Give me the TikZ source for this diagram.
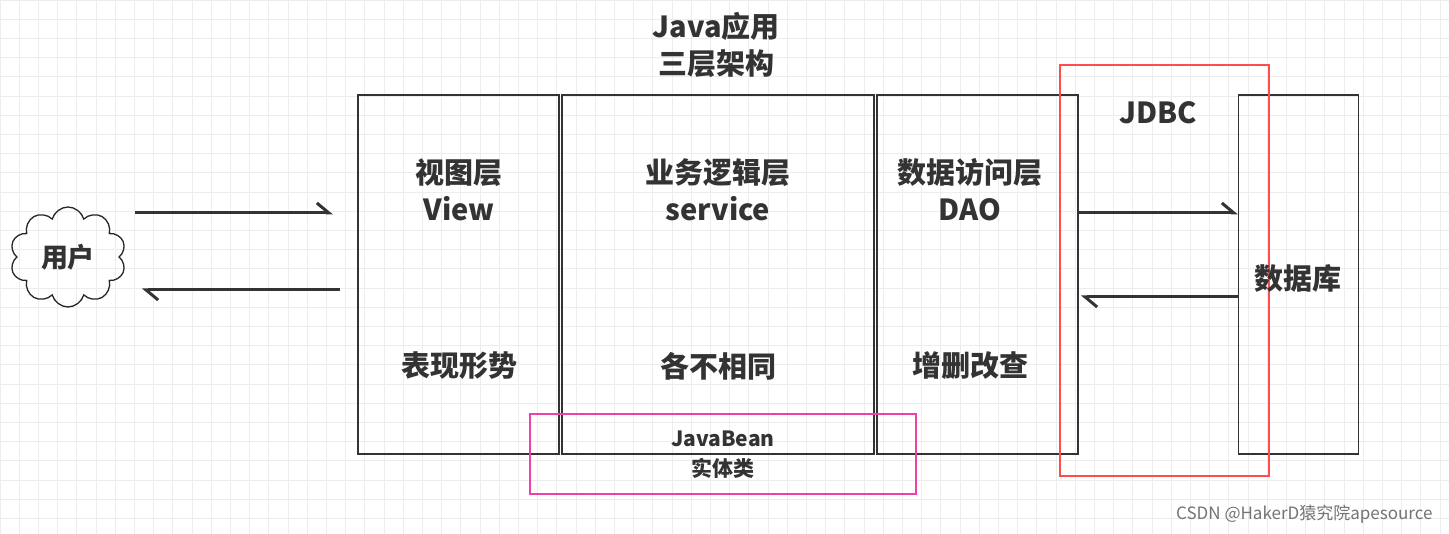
\documentclass[tikz,border=0pt]{standalone}
\usepackage{fontspec}
\setmainfont{Noto Sans CJK SC}
\usetikzlibrary{shapes.symbols,arrows.meta}
\begin{document}
\begin{tikzpicture}[x=1pt,y=-1pt,
  box/.style={draw=black!80,line width=1.3pt},
  lbl/.style={font=\fontsize{29}{37}\selectfont\bfseries,text=black!80,align=center},
  arr/.style={line width=3pt,draw=black!80,-{Straight Barb[left,length=12pt,width=20pt]}}]
\fill[white] (0,0) rectangle (1449,534);
\useasboundingbox (0,0) rectangle (1449,534);
\foreach \i in {0,...,76} {\draw[black!7,line width=0.8pt] (\i*19.2,0) -- (\i*19.2,534);}
\foreach \i in {0,...,28} {\draw[black!7,line width=0.8pt] (0,\i*19.2) -- (1449,\i*19.2);}
\draw[box] (358,95) rectangle (559,454);
\draw[box] (562,95) rectangle (874,454);
\draw[box] (877,95) rectangle (1078,454);
\node[box,minimum width=120,minimum height=359,inner sep=0] (db) at (1298.5,274.5) {};
\draw[red!70,line width=1.6pt] (1060,65) rectangle (1269,476);
\draw[magenta!75,line width=2pt] (530,414) rectangle (916,494);
\node[lbl] at (716,45) {Java应用\\三层架构};
\node[lbl] at (459,190) {视图层\\View};
\node[lbl] at (718,190) {业务逻辑层\\service};
\node[lbl] at (970,190) {数据访问层\\DAO};
\node[lbl] at (459,366) {表现形势};
\node[lbl] at (718,366) {各不相同};
\node[lbl] at (970,366) {增删改查};
\node[lbl] at (1158,113) {JDBC};
\node[lbl] at (1298,278) {数据库};
\node[font=\fontsize{21}{30}\selectfont\bfseries,text=black!80,align=center] at (723,455) {JavaBean\\实体类};
\node[cloud,draw=black!85,line width=1.3pt,cloud puffs=10,aspect=1.2,minimum width=116,minimum height=100,
  font=\fontsize{27}{30}\selectfont\bfseries,text=black!80] (user) at (68,257) {用户};
\coordinate (a1) at (135,213); \coordinate (a2) at (333,213);
\coordinate (b1) at (340,290); \coordinate (b2) at (142,290);
\coordinate (c1) at (1079,213); \coordinate (c2) at (1238,213);
\coordinate (d1) at (1238,297); \coordinate (d2) at (1081,297);
\draw[arr] (a1) -- (a2);
\draw[arr] (b1) -- (b2);
\draw[arr] (c1) -- (c2);
\draw[arr] (d1) -- (d2);
\node[font=\fontsize{17}{20}\selectfont,text=black!55,anchor=east] at (1436,514) {CSDN @HakerD猿究院apesource};
\end{tikzpicture}
\end{document}
